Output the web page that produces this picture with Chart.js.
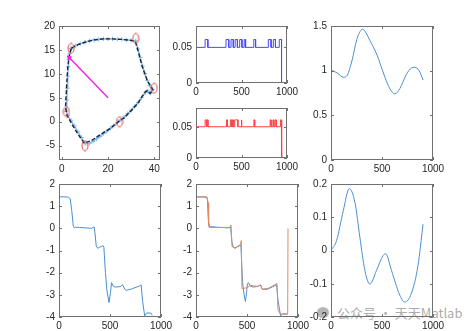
<!DOCTYPE html>
<html><head><meta charset="utf-8">
<script src="https://cdn.jsdelivr.net/npm/chart.js@4/dist/chart.umd.min.js"></script>
<style>
html,body{margin:0;padding:0;background:#fff;width:474px;height:331px;overflow:hidden;position:relative}
canvas{position:absolute}
#wm{position:absolute;left:317px;top:303px;font:13px "Noto Sans CJK SC",sans-serif;color:rgba(150,150,150,0.8);white-space:nowrap;display:flex;align-items:center}
#wm i{display:inline-block;width:12px;height:11px;border-radius:50%;background:rgba(150,150,150,0.7);margin-right:8px}
</style></head><body>
<div id="wm"><i></i><span>公众号 · 天天Matlab</span></div>
<script>
// ---------- Panel 1: path tracking ----------
const pathX = [4,6,8,10,12,14,16,18,20,22,24,26,28,30,32,33,34,35,36,37,38,39.3,38.3,37.2,36.2,34.5,33,31.5,30,28.5,27,25.5,24,22.5,21,19.5,18,16.5,15,13.5,12,10.2,8.5,7,5.5,4,2.5,2,2.2,2.4,2.6,2.8,3,3.3,4];
const pathY = [15.3,15.9,16.3,16.6,16.9,17.1,17.2,17.3,17.3,17.3,17.2,17.2,17.1,17.0,16.9,15.2,13.4,11.6,10,8.6,7.6,6.8,6.0,6.4,6.1,5,4,3.2,2.4,1.7,1.0,0.4,-0.2,-0.8,-1.4,-2,-2.5,-3.1,-3.6,-4.1,-4.5,-4.6,-3.3,-2.1,-0.9,0.3,1.3,2.2,4.5,7,9.5,11.5,13,14.2,15.3];
const trackX = [4.2,7,10,14,18,22,26,30,31.8,33,35,37,38.5,39.5,38.2,37,36,33,30,27,25,21,17,13,10.5,9.8,7,4.5,2.3,1.6,2.1,2.6,3.0,3.6,4.2];
const trackY = [15.4,16.1,16.6,17.1,17.3,17.3,17.2,17.0,16.8,14.8,11.2,8.6,7.4,6.6,5.9,6.5,6.2,3.9,2.3,0.8,0.2,-1.4,-2.6,-3.9,-4.3,-4.5,-2.6,-0.6,1.3,3.0,7.5,11.5,13.0,14.4,15.4];
const wayX = [4,32,40,25,10,2];
const wayY = [15.3,17.4,7,0,-5,2.1];
const arrowX = [20,3.2];
const arrowY = [5,13.4];
const p1XTicks = [0,20,40];
const p1YTicks = [-5,0,5,10,15,20];

// ---------- Panel 2: pulse signals ----------
const blueOn  = [100,330,385,430,480,530,635,795,850,915];
const blueOff = [130,360,410,455,505,545,655,825,873,940];
const redOn   = [100,120,335,378,400,425,495,636,815,845,870,928];
const redOff  = [110,131,345,392,410,460,505,645,825,855,882,938];
const pulseBase = 0.05, pulseHigh = 0.061;
const blueEnd = 940, redEnd = 943;
const p2YTicks = [0,0.05];

// ---------- Panel 4 ----------
const p4X = [0,60,123,160,205,253,286,312,340,380,448,529,578,627,675,740,789,821,864,903];
const p4Y = [1.007,0.975,0.926,0.95,1.11,1.35,1.44,1.463,1.43,1.34,1.185,0.926,0.796,0.74,0.8,0.96,1.03,1.037,1.0,0.896];
const p4YTicks = [0,0.5,1,1.5];

// ---------- Panel 5 ----------
const p5X = [0,40,90,110,125,140,150,160,200,260,320,335,345,355,365,380,400,430,440,455,470,490,505,515,530,550,600,625,645,660,720,790,805,820,840,860,900,915];
const p5Y = [1.42,1.42,1.41,1.33,0.8,0.1,0.02,0.05,0.04,0.02,0.0,0.05,0.06,-0.3,-0.8,-0.9,-0.85,-0.78,-0.85,-2.0,-2.8,-3.35,-2.9,-2.45,-2.6,-2.65,-2.63,-2.55,-2.75,-2.8,-2.72,-2.6,-2.55,-3.3,-3.95,-3.82,-3.82,-3.92];
const p56YTicks = [-4,-3,-2,-1,0,1,2];

// ---------- Panel 6 ----------
const p6BlueX = [0,100,112,122,135,150,200,320,340,352,365,380,420,440,450,460,475,485,495,505,515,530,560,610,630,650,700,790,805,830,850,895];
const p6BlueY = [1.42,1.41,1.3,0.3,0.05,0.08,0.05,0.02,0.05,-0.6,-0.85,-0.9,-0.8,-0.75,-1.8,-2.6,-3.1,-3.3,-2.9,-2.5,-2.45,-2.6,-2.65,-2.62,-2.55,-2.75,-2.75,-2.55,-3.3,-3.95,-3.85,-3.87];
const p6OrangeX = [0,108,118,124,130,200,330,343,353,386,435,444,451,500,533,600,635,650,712,794,804,827,899,902];
const p6OrangeY = [1.42,1.42,1.16,0.12,0.04,0.04,0.04,0.15,-0.82,-0.88,-0.73,-0.55,-2.72,-2.68,-2.57,-2.62,-2.55,-2.75,-2.7,-2.49,-3.7,-3.87,-3.87,0.0];

// ---------- Panel 7 ----------
const p7X = [0,55,120,179,235,283,332,381,446,511,537,593,674,723,788,853,902];
const p7Y = [0,0.03,0.119,0.186,0.144,0.04,-0.06,-0.101,-0.06,-0.015,-0.01,-0.06,-0.134,-0.155,-0.129,-0.045,0.079];
const p7YTicks = [-0.2,-0.1,0,0.1,0.2];

const xTicks1000 = [0,500,1000];

// ---------- helpers ----------
const FONT = '"Liberation Sans", Arial, sans-serif';
const PL = 40, PR = 18, PT = 9, PB = 18;
const zip = (xs, ys) => xs.map((x, i) => ({x, y: ys[i]}));
function pulses(on, off, end) {
  const pts = [{x: 0, y: pulseBase}];
  on.forEach((s, i) => {
    pts.push({x: s, y: pulseBase}, {x: s, y: pulseHigh}, {x: off[i], y: pulseHigh});
    if (off[i] < end) pts.push({x: off[i], y: pulseBase});
  });
  if (pts[pts.length - 1].x < end) pts.push({x: end, y: pulseBase});
  pts.push({x: end, y: 0});
  return pts;
}
function ellipseStyle() {
  const c = document.createElement('canvas');
  c.width = 8; c.height = 12;
  const g = c.getContext('2d');
  g.strokeStyle = '#e0504a'; g.lineWidth = 1;
  g.beginPath(); g.ellipse(4, 6, 3, 5, 0, 0, Math.PI * 2); g.stroke();
  return c;
}
const boxPlugin = {
  id: 'mbox',
  afterDraw(ch) {
    const {ctx, chartArea: a, scales: {x, y}} = ch;
    ctx.save();
    ctx.strokeStyle = '#707070'; ctx.lineWidth = 1;
    ctx.strokeRect(a.left + 0.5, a.top + 0.5, a.right - a.left - 1, a.bottom - a.top - 1);
    ctx.beginPath();
    x.ticks.forEach(t => {
      const p = Math.round(x.getPixelForValue(t.value)) + 0.5;
      ctx.moveTo(p, a.bottom); ctx.lineTo(p, a.bottom - 3);
      ctx.moveTo(p, a.top); ctx.lineTo(p, a.top + 3);
    });
    y.ticks.forEach(t => {
      const p = Math.round(y.getPixelForValue(t.value)) + 0.5;
      ctx.moveTo(a.left, p); ctx.lineTo(a.left + 3, p);
      ctx.moveTo(a.right, p); ctx.lineTo(a.right - 3, p);
    });
    ctx.stroke();
    ctx.restore();
  }
};
function panel(box, datasets, xr, yr, xt, yt) {
  const c = document.createElement('canvas');
  const w = box.r - box.l + PL + PR, h = box.b - box.t + PT + PB;
  c.width = w; c.height = h;
  c.style.left = (box.l - PL) + 'px'; c.style.top = (box.t - PT) + 'px';
  c.style.width = w + 'px'; c.style.height = h + 'px';
  document.body.appendChild(c);
  const tickFont = {family: FONT, size: 10};
  // later datasets in the list are drawn on top (MATLAB plotting order)
  datasets.forEach((d, i) => { d.order = datasets.length - i; });
  new Chart(c, {
    type: 'scatter',
    data: {datasets},
    options: {
      responsive: false, animation: false, devicePixelRatio: 1,
      layout: {padding: {left: 0, right: PR, top: PT, bottom: 0}},
      plugins: {legend: {display: false}, tooltip: {enabled: false}},
      scales: {
        x: {type: 'linear', min: xr[0], max: xr[1],
            grid: {display: false, drawTicks: false}, border: {display: false},
            afterBuildTicks: s => { s.ticks = xt.map(v => ({value: v})); },
            afterFit: s => { s.height = PB; },
            ticks: {font: tickFont, color: '#262626', padding: 3, maxRotation: 0, autoSkip: false,
                    callback: v => String(+(+v).toFixed(6))}},
        y: {type: 'linear', min: yr[0], max: yr[1],
            grid: {display: false, drawTicks: false}, border: {display: false},
            afterBuildTicks: s => { s.ticks = yt.map(v => ({value: v})); },
            afterFit: s => { s.width = PL; },
            ticks: {font: tickFont, color: '#262626', padding: 4, autoSkip: false,
                    callback: v => String(+(+v).toFixed(6))}}
      }
    },
    plugins: [boxPlugin]
  });
}
const line = (data, color, extra) => Object.assign({data, showLine: true, borderColor: color, borderWidth: 1,
  pointRadius: 0, tension: 0, fill: false}, extra || {});

// Panel 1
panel({l: 59, t: 25, r: 160, b: 160}, [
  line(zip(pathX, pathY), '#7db4e3', {borderWidth: 1.2, pointRadius: 2.2, pointStyle: 'cross', pointBorderColor: '#86b9e4', pointBorderWidth: 1}),
  line(zip(trackX, trackY), '#18263a', {borderWidth: 1.4, borderDash: [4, 2]}),
  {data: zip(wayX, wayY), showLine: false, pointStyle: ellipseStyle(), pointRadius: 5},
  line(zip(arrowX, arrowY), '#ee22ee', {borderWidth: 1.4}),
  {data: [{x: arrowX[1], y: arrowY[1]}], showLine: false, pointStyle: 'triangle', pointRadius: 2.5, rotation: -44,
   backgroundColor: '#ee22ee', borderColor: '#ee22ee', borderWidth: 1}
], [-1.2, 42.5], [-8, 20], p1XTicks, p1YTicks);

// Panel 2a / 2b
panel({l: 196, t: 25, r: 287, b: 83}, [
  line(pulses(blueOn, blueOff, blueEnd), '#4848ff')
], [0, 1000], [0, 0.08], xTicks1000, p2YTicks);
panel({l: 196, t: 107, r: 287, b: 158}, [
  line(pulses(redOn, redOff, redEnd), '#ff4040')
], [0, 1000], [0, 0.08], xTicks1000, p2YTicks);

// Panel 4
panel({l: 331, t: 25, r: 433, b: 160}, [
  line(zip(p4X, p4Y), '#4a8fcf', {cubicInterpolationMode: 'monotone'})
], [0, 1000], [0, 1.5], xTicks1000, p4YTicks);

// Panel 5
panel({l: 59, t: 183, r: 161, b: 317}, [
  line(zip(p5X, p5Y), '#4a8fcf')
], [0, 1000], [-4, 2], xTicks1000, p56YTicks);

// Panel 6
panel({l: 196, t: 183, r: 298, b: 317}, [
  line(zip(p6BlueX, p6BlueY), '#4a8fcf'),
  line(zip(p6OrangeX, p6OrangeY), '#e08a62')
], [0, 1000], [-4, 2], xTicks1000, p56YTicks);

// Panel 7
panel({l: 331, t: 183, r: 433, b: 317}, [
  line(zip(p7X, p7Y), '#4a8fcf', {cubicInterpolationMode: 'monotone'})
], [0, 1000], [-0.2, 0.2], xTicks1000, p7YTicks);
</script>
</body></html>
